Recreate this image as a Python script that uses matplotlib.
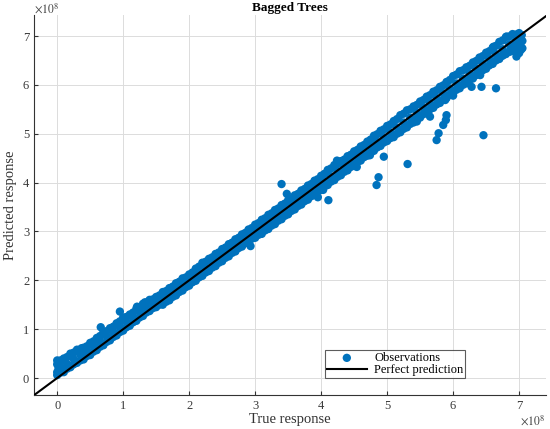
import matplotlib
matplotlib.use("Agg")
import matplotlib.pyplot as plt

# valeurs en unites de 1e8
true_x = [0.00, 0.10, 0.20, 0.30, 0.40, 0.50, 0.60, 0.70, 0.80, 0.90,
          1.00, 1.10, 1.20, 1.30, 1.40, 1.50, 1.60, 1.70, 1.80, 1.90,
          2.00, 2.10, 2.20, 2.30, 2.40, 2.50, 2.60, 2.70, 2.80, 2.90,
          3.00, 3.10, 3.20, 3.30, 3.40, 3.50, 3.60, 3.70, 3.80, 3.90,
          4.00, 4.10, 4.20, 4.30, 4.40, 4.50, 4.60, 4.70, 4.80, 4.90,
          5.00, 5.10, 5.20, 5.30, 5.40, 5.50, 5.60, 5.70, 5.80, 5.90,
          6.00, 6.10, 6.20, 6.30, 6.40, 6.50, 6.60, 6.70, 6.80, 6.90,
          7.00]

# rangees decalees d'un demi pas
half_x = [0.05, 0.15, 0.25, 0.35, 0.45, 0.55, 0.65, 0.75, 0.85, 0.95,
          1.05, 1.15, 1.25, 1.35, 1.45, 1.55, 1.65, 1.75, 1.85, 1.95,
          2.05, 2.15, 2.25, 2.35, 2.45, 2.55, 2.65, 2.75, 2.85, 2.95,
          3.05, 3.15, 3.25, 3.35, 3.45, 3.55, 3.65, 3.75, 3.85, 3.95,
          4.05, 4.15, 4.25, 4.35, 4.45, 4.55, 4.65, 4.75, 4.85, 4.95,
          5.05, 5.15, 5.25, 5.35, 5.45, 5.55, 5.65, 5.75, 5.85, 5.95,
          6.05, 6.15, 6.25, 6.35, 6.45, 6.55, 6.65, 6.75, 6.85, 6.95,
          7.03]

pred_upper = [0.36, 0.40, 0.50, 0.58, 0.62, 0.72, 0.82, 0.94, 1.02, 1.12,
              1.24, 1.30, 1.42, 1.52, 1.60, 1.66, 1.76, 1.84, 1.94, 2.04,
              2.12, 2.24, 2.36, 2.44, 2.54, 2.64, 2.74, 2.84, 2.94, 3.04,
              3.14, 3.24, 3.34, 3.44, 3.54, 3.64, 3.74, 3.84, 3.94, 4.04,
              4.14, 4.26, 4.36, 4.44, 4.54, 4.64, 4.74, 4.84, 4.96, 5.06,
              5.16, 5.26, 5.38, 5.48, 5.56, 5.66, 5.76, 5.86, 5.96, 6.06,
              6.18, 6.28, 6.36, 6.46, 6.56, 6.66, 6.76, 6.88, 6.98, 7.04,
              7.06]

pred_upper_b = [0.36, 0.43, 0.52, 0.58, 0.65, 0.75, 0.86, 0.96, 1.05, 1.16,
                1.25, 1.34, 1.45, 1.54, 1.61, 1.69, 1.78, 1.87, 1.97, 2.06,
                2.16, 2.28, 2.38, 2.47, 2.57, 2.67, 2.77, 2.87, 2.97, 3.07,
                3.17, 3.27, 3.37, 3.47, 3.57, 3.67, 3.77, 3.87, 3.97, 4.07,
                4.18, 4.29, 4.38, 4.47, 4.57, 4.67, 4.77, 4.88, 4.99, 5.09,
                5.19, 5.30, 5.41, 5.50, 5.59, 5.69, 5.79, 5.89, 5.99, 6.10,
                6.21, 6.30, 6.39, 6.49, 6.59, 6.69, 6.80, 6.91, 6.99, 7.03,
                7.02]

pred_center = [0.22, 0.29, 0.39, 0.48, 0.55, 0.65, 0.75, 0.85, 0.95, 1.05,
               1.15, 1.25, 1.35, 1.45, 1.55, 1.62, 1.67, 1.75, 1.85, 1.95,
               2.05, 2.15, 2.25, 2.35, 2.45, 2.55, 2.65, 2.75, 2.85, 2.95,
               3.03, 3.13, 3.23, 3.33, 3.43, 3.53, 3.63, 3.73, 3.83, 3.93,
               4.03, 4.13, 4.23, 4.33, 4.43, 4.53, 4.63, 4.73, 4.83, 4.93,
               5.03, 5.13, 5.23, 5.33, 5.43, 5.53, 5.63, 5.73, 5.83, 5.93,
               6.03, 6.13, 6.23, 6.33, 6.43, 6.53, 6.63, 6.73, 6.83, 6.90,
               6.92]

pred_lower = [0.06, 0.12, 0.22, 0.31, 0.38, 0.47, 0.57, 0.67, 0.77, 0.87,
              0.97, 1.07, 1.17, 1.27, 1.37, 1.45, 1.50, 1.59, 1.69, 1.79,
              1.89, 1.99, 2.09, 2.19, 2.29, 2.39, 2.49, 2.59, 2.69, 2.79,
              2.87, 2.95, 3.05, 3.15, 3.25, 3.35, 3.45, 3.55, 3.65, 3.75,
              3.85, 3.95, 4.05, 4.15, 4.25, 4.35, 4.45, 4.55, 4.65, 4.75,
              4.85, 4.93, 5.03, 5.13, 5.23, 5.33, 5.43, 5.53, 5.63, 5.73,
              5.83, 5.93, 6.03, 6.13, 6.23, 6.33, 6.43, 6.53, 6.63, 6.70,
              6.78]

pred_lower_b = [0.11, 0.19, 0.28, 0.36, 0.45, 0.54, 0.64, 0.74, 0.84, 0.94,
                1.04, 1.14, 1.24, 1.34, 1.43, 1.50, 1.56, 1.66, 1.76, 1.86,
                1.96, 2.06, 2.16, 2.26, 2.36, 2.46, 2.56, 2.66, 2.76, 2.85,
                2.93, 3.02, 3.12, 3.22, 3.32, 3.42, 3.52, 3.62, 3.72, 3.82,
                3.92, 4.02, 4.12, 4.22, 4.32, 4.42, 4.52, 4.62, 4.72, 4.82,
                4.91, 5.00, 5.10, 5.20, 5.30, 5.40, 5.50, 5.60, 5.70, 5.80,
                5.90, 6.00, 6.10, 6.20, 6.30, 6.40, 6.50, 6.60, 6.68, 6.76,
                6.72]

# points isoles
out_x = [0.00, 0.00, 0.37, 0.66, 0.95, 1.21, 1.33, 2.93, 3.23, 3.40, 3.48,
         3.80, 3.95, 4.03, 4.11, 4.24, 4.54, 4.74, 4.84, 4.87, 4.95, 5.31,
         5.45, 5.65, 5.75, 5.78, 5.85, 5.89, 5.90, 5.88, 6.00, 6.26, 6.41,
         6.28, 6.43, 6.65, 6.46, 6.61, 6.81, 6.86, 6.96, 7.02, 7.04, 7.05,
         7.05, 6.95, 6.90, 7.00, 6.75, 6.80, 0.02, 0.03]
out_y = [0.28, 0.12, 0.61, 1.04, 1.36, 1.46, 1.55, 2.70, 3.30, 3.97, 3.77,
         3.72, 3.70, 3.85, 3.64, 4.45, 4.32, 4.56, 3.95, 4.11, 4.53, 4.38,
         5.25, 5.35, 4.87, 5.01, 5.18, 5.28, 5.38, 5.69, 5.78, 6.20, 6.20,
         5.96, 5.96, 5.93, 4.97, 6.78, 6.99, 6.68, 6.58, 6.85, 7.02, 6.75,
         6.90, 6.80, 6.70, 6.65, 6.60, 6.65, 0.20, 0.34]

all_x = true_x + half_x + half_x + true_x + half_x + out_x
all_y = pred_upper + pred_upper_b + pred_center + pred_lower + pred_lower_b + out_y

plt.rcParams['font.family'] = ['Liberation Serif', 'DejaVu Serif']
plt.rcParams['mathtext.fontset'] = 'stix'

fig = plt.figure(figsize=(5.5, 4.29), dpi=100)
ax = fig.add_axes([0.062, 0.079, 0.931, 0.886])

ax.scatter(all_x, all_y, s=36, color='#0072BD', edgecolors='none',
           label='Observations', zorder=2)
ax.plot([-0.35, 7.45], [-0.35, 7.45], color='black', lw=1.5,
        label='Perfect prediction', zorder=3)

ax.set_xlim(-0.35, 7.41)
ax.set_ylim(-0.35, 7.43)
ax.set_xticks(range(0, 8))
ax.set_yticks(range(0, 8))

ax.grid(True, color='#dcdcdc', lw=0.7)
ax.set_axisbelow(True)
for side in ['top', 'right']:
    ax.spines[side].set_visible(False)
for side in ['left', 'bottom']:
    ax.spines[side].set_color('#333333')
    ax.spines[side].set_linewidth(0.8)
ax.tick_params(direction='in', length=3, colors='#333333', labelsize=9,
               labelcolor='#3a3a3a')

ax.set_title('Bagged Trees', fontsize=9.5, fontweight='bold', pad=3)
ax.set_xlabel('True response', fontsize=10.5, color='#333333', labelpad=1)
ax.set_ylabel('Predicted response', fontsize=10.5, color='#333333', labelpad=4)

fig.text(0.062, 0.997, r'$\times10^{8}$', fontsize=8.5,
         color='#444444', va='top', ha='left')
fig.text(0.992, 0.003, r'$\times10^{8}$', fontsize=8.5,
         color='#444444', va='bottom', ha='right')

leg = ax.legend(loc='lower left', bbox_to_anchor=(0.568, 0.045), fontsize=9,
                frameon=True, fancybox=False, borderpad=0.15, labelspacing=0.0,
                handlelength=3.2, handletextpad=0.6, borderaxespad=0)
leg.get_frame().set_edgecolor('#333333')
leg.get_frame().set_linewidth(0.8)

fig.savefig('out.png', dpi=100)
